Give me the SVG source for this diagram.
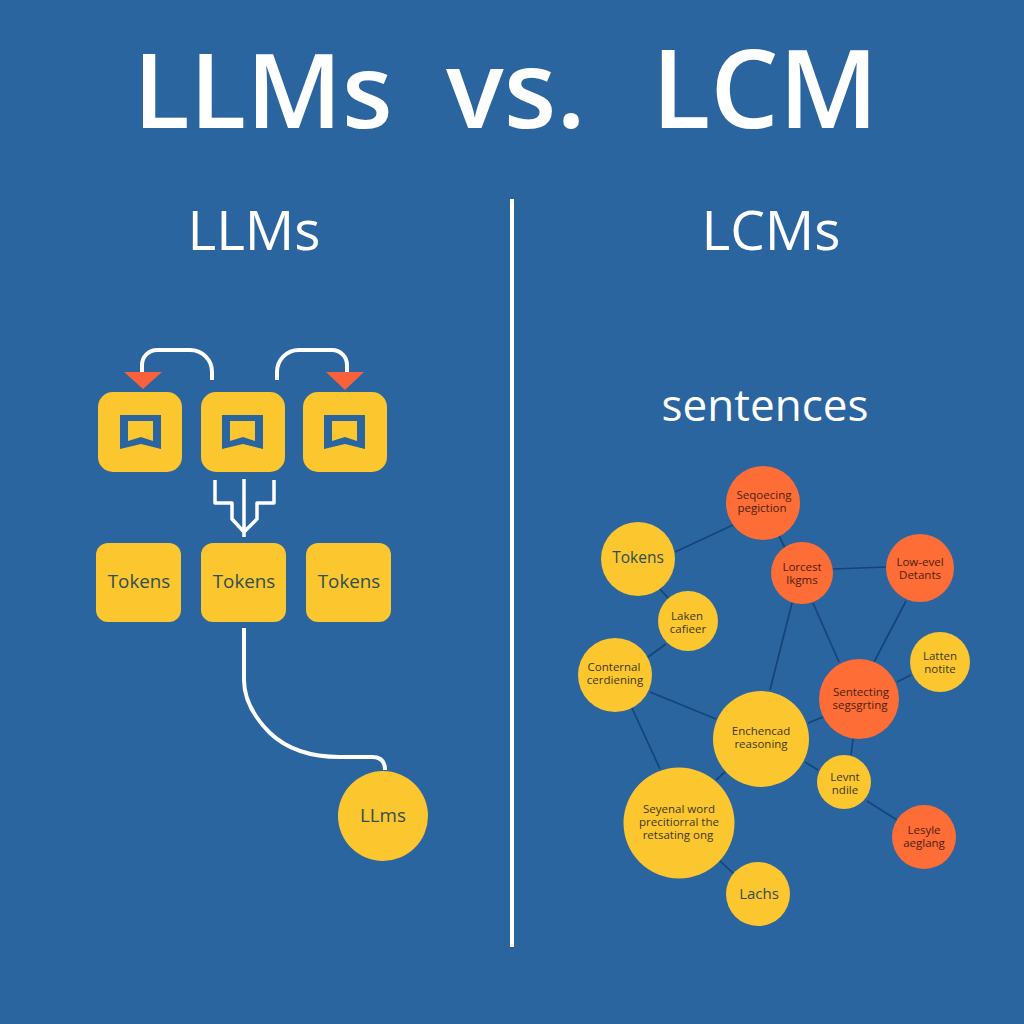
<svg xmlns="http://www.w3.org/2000/svg" width="1024" height="1024" viewBox="0 0 1024 1024">
<defs>
<style>
text{font-family:"Open Sans","Noto Sans","Liberation Sans",sans-serif;text-anchor:middle}
.title{font-size:108px;font-weight:600;fill:#fff}
.sub{font-size:55px;fill:#fff}
.y{fill:#fcc62f}
.o{fill:#fe6d35}
.tok{font-size:18.8px;fill:#2f4f52}
.s{font-size:11.5px;fill:#3c3a1e}
.so{font-size:11.5px;fill:#4a1f14}
.w{fill:none;stroke:#fff;stroke-width:4;stroke-linejoin:round}
.e{stroke:#154478;stroke-width:1.7;fill:none}
.tri{fill:#f9613a}
.ico{fill:#2a659f;fill-rule:evenodd}
</style>
<path id="icon" d="M120 415H161V449L141 444L120 449ZM128 421V441L141 437L153 441V421Z"/>
</defs>
<rect width="1024" height="1024" fill="#2a659f"/>
<g id="titles">
<text class="title" x="263" y="128" style="font-size:104px">LLMs</text>
<text class="title" x="516" y="128">vs.</text>
<text class="title" x="765" y="128">LCM</text>
<text class="sub" x="254" y="250">LLMs</text>
<text class="sub" x="771" y="250">LCMs</text>
<text x="765" y="421" font-size="44" fill="#fff">sentences</text>
</g>
<g id="connectors">
<path class="w" d="M512 199V947"/>
<path class="w" d="M212 380V372A22 22 0 0 0 190 350H157A15 15 0 0 0 142 365V376"/>
<path class="w" d="M277 380V372A22 22 0 0 1 299 350H332A15 15 0 0 1 347 365V376"/>
<path class="w" style="stroke-width:3.5" d="M215 480V503H232V519L244 532M274 480V503H257V519L244 532M244 479V537"/>
<path class="w" d="M244 628V680C244 700 255 718 270 733C290 752 315 757 340 757H372Q385 757 385 770"/>
<path class="tri" d="M124 372H162L143 389Z"/>
<path class="tri" d="M326 372H364L345 390Z"/>
<g class="e">
<path d="M675 552L733 525"/><path d="M779 536L785 548"/><path d="M833 569L886 567"/>
<path d="M792 603L770 690"/><path d="M813 603L839 662"/><path d="M906 601L874 662"/>
<path d="M911 675L897 682"/><path d="M660 589L668 598"/><path d="M666 644L648 657"/>
<path d="M650 692L716 719"/><path d="M632 708L660 769"/><path d="M808 723L823 717"/>
<path d="M853 739L851 755"/><path d="M805 762L818 770"/><path d="M716 780L725 772"/>
<path d="M867 801L897 820"/><path d="M720 861L733 873"/>
</g>
</g>
<g id="box1"><rect class="y" x="98" y="392" width="84" height="80" rx="15"/><use href="#icon" class="ico"/></g>
<g id="box2"><rect class="y" x="201" y="392" width="84" height="80" rx="15"/><use href="#icon" class="ico" x="102"/></g>
<g id="box3"><rect class="y" x="303" y="392" width="84" height="80" rx="15"/><use href="#icon" class="ico" x="204"/></g>
<g id="token1"><rect class="y" x="96" y="543" width="85" height="79" rx="12"/><text class="tok" x="139" y="588">Tokens</text></g>
<g id="token2"><rect class="y" x="201" y="543" width="85" height="79" rx="12"/><text class="tok" x="244" y="588">Tokens</text></g>
<g id="token3"><rect class="y" x="306" y="543" width="85" height="79" rx="12"/><text class="tok" x="349" y="588">Tokens</text></g>
<g id="llms-node"><circle class="y" cx="383" cy="816" r="45"/><text class="tok" x="383" y="822">LLms</text></g>
<g id="n-seq"><circle class="o" cx="763" cy="503" r="37"/><text class="so" x="764" y="499">Seqoecing</text><text class="so" x="762" y="512">pegiction</text></g>
<g id="n-tokens"><circle class="y" cx="638" cy="559" r="37"/><text class="tok" x="638" y="563" style="font-size:15.5px">Tokens</text></g>
<g id="n-lorcest"><circle class="o" cx="802" cy="573" r="31"/><text class="so" x="802" y="571">Lorcest</text><text class="so" x="802" y="584">lkgms</text></g>
<g id="n-low"><circle class="o" cx="920" cy="568" r="34"/><text class="so" x="920" y="566">Low-evel</text><text class="so" x="920" y="579">Detants</text></g>
<g id="n-laken"><circle class="y" cx="688" cy="621" r="30"/><text class="s" x="687" y="620">Laken</text><text class="s" x="688" y="633">cafieer</text></g>
<g id="n-conternal"><circle class="y" cx="615" cy="675" r="37"/><text class="s" x="614" y="671">Conternal</text><text class="s" x="615" y="684">cerdiening</text></g>
<g id="n-latten"><circle class="y" cx="940" cy="662" r="30"/><text class="s" x="940" y="660">Latten</text><text class="s" x="940" y="673">notite</text></g>
<g id="n-sent"><circle class="o" cx="859" cy="699" r="40"/><text class="so" x="861" y="696">Sentecting</text><text class="so" x="860" y="709">segsgrting</text></g>
<g id="n-enchen"><circle class="y" cx="761" cy="739" r="48"/><text class="s" x="761" y="735">Enchencad</text><text class="s" x="761" y="748">reasoning</text></g>
<g id="n-seyenal"><circle class="y" cx="679" cy="823" r="55.5"/><text class="s" x="679" y="813">Seyenal word</text><text class="s" x="679" y="826">precitiorral the</text><text class="s" x="678" y="839">retsating ong</text></g>
<g id="n-levnt"><circle class="y" cx="844" cy="782" r="27"/><text class="s" x="845" y="781">Levnt</text><text class="s" x="845" y="794">ndile</text></g>
<g id="n-lesyle"><circle class="o" cx="924" cy="837" r="32"/><text class="so" x="924" y="834">Lesyle</text><text class="so" x="924" y="847">aeglang</text></g>
<g id="n-lachs"><circle class="y" cx="758" cy="894" r="32"/><text class="tok" x="759" y="899" style="font-size:15px">Lachs</text></g>
</svg>
